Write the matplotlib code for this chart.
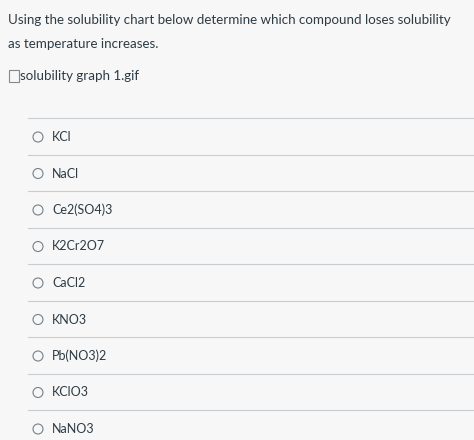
import matplotlib
matplotlib.use("Agg")
import matplotlib.pyplot as plt
from matplotlib.patches import Circle, Rectangle

question = ["Using the solubility chart below determine which compound loses solubility",
            "as temperature increases."]
image_label = "solubility graph 1.gif"
options = ["KCl", "NaCl", "Ce2(SO4)3", "K2Cr2O7", "CaCl2", "KNO3", "Pb(NO3)2", "KClO3", "NaNO3"]

fig = plt.figure(figsize=(4.74, 4.4), dpi=100)
fig.patch.set_facecolor("#f7f7f7")
ax = fig.add_axes([0, 0, 1, 1])
ax.set_xlim(0, 474); ax.set_ylim(440, 0); ax.axis("off")

fam = ["Lato", "DejaVu Sans"]
ax.text(8, 20, question[0], fontsize=9.6, color="#2d3b45", va="center", family=fam)
ax.text(8, 44, question[1], fontsize=9.6, color="#2d3b45", va="center", family=fam)
ax.add_patch(Rectangle((9, 70), 10, 12, fill=False, ec="#888888", lw=0.8))
ax.text(20, 76, image_label, fontsize=9.6, color="#2d3b45", va="center", family=fam)

step = 36.5
for i, opt in enumerate(options):
    y = 137 + i * step
    ax.plot([28, 474], [y - 18.5, y - 18.5], color="#c7cdd1", lw=0.8)
    ax.add_patch(Circle((38, y), 5, fill=False, ec="#73818a", lw=0.8))
    ax.text(52, y, opt, fontsize=9, color="#2d3b45", va="center", family=fam)

fig.savefig("out.png", dpi=100, facecolor=fig.get_facecolor())
